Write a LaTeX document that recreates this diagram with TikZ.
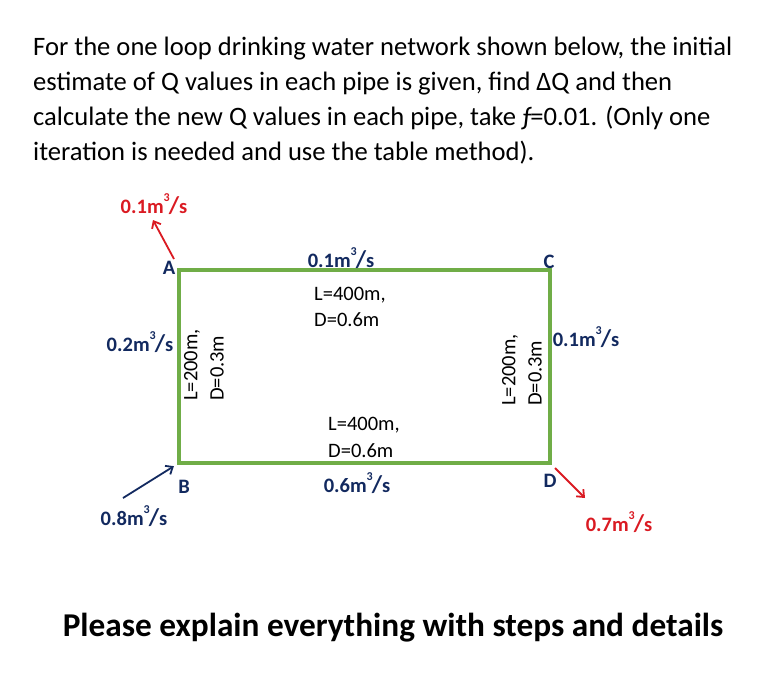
\documentclass[tikz,border=0pt]{standalone}
\usepackage{fontspec}
\setmainfont{Carlito}
\usepackage{tikz}
\usetikzlibrary{arrows.meta}
\definecolor{pipegreen}{HTML}{70AD47}
\definecolor{flowblue}{HTML}{12295F}
\definecolor{flowred}{HTML}{DA1A22}
\newcommand{\flowunit}{m\raisebox{1.25ex}{\fontsize{12}{12}\selectfont 3}\kern-1pt{\fontsize{24}{24}\selectfont/}s}
\tikzset{
	pipe/.style={draw=pipegreen, line width=3.3pt, line join=miter},
	inflow/.style={draw=flowblue, line width=1.8pt, -{Straight Barb[length=6pt,width=10pt]}},
	outflow/.style={draw=flowred, line width=1.8pt, -{Straight Barb[length=6pt,width=10pt]}},
	flowlabel/.style={inner sep=0pt, text=flowblue, font=\fontsize{20.5}{22}\selectfont\bfseries},
	redlabel/.style={flowlabel, text=flowred},
	pipelabel/.style={inner sep=0pt, anchor=west, font=\fontsize{20.5}{24}\selectfont},
	sidelabel/.style={pipelabel, rotate=90}
}
\begin{document}
\begin{tikzpicture}[x=1pt,y=-1pt]
	\useasboundingbox (0,0) rectangle (782,688);
	\node at (33,101) (question) [inner sep=0pt, anchor=west, align=left, font=\fontsize{26.6}{35}\selectfont] {For the one loop drinking water network shown below, the initial\\estimate of Q values in each pipe is given, find ΔQ and then\\calculate the new Q values in each pipe, take\kern-2pt{} ƒ\kern-3pt=0.01. (Only one\\iteration is needed and use the table method).};
	\node at (393,628) (request) [inner sep=0pt, font=\fontsize{33.3}{36}\selectfont\bfseries] {Please explain everything with steps and details};
	% loop corners
	\coordinate (cornerA) at (179,270);
	\coordinate (cornerC) at (550,270);
	\coordinate (cornerD) at (550,463);
	\coordinate (cornerB) at (179,463);
	\draw [pipe] (cornerA) -- (cornerC) -- (cornerD) -- (cornerB) -- cycle;
	\node at (169,268) (A) [flowlabel] {A};
	\node at (184,487) (B) [flowlabel] {B};
	\node at (549,262) (C) [flowlabel] {C};
	\node at (550,481) (D) [flowlabel] {D};
	% supply and demand arrows
	\coordinate (startA) at (174,259);
	\coordinate (outA) at (153,220);
	\coordinate (inB) at (123,498);
	\coordinate (startD) at (555,468);
	\coordinate (outD) at (585,498);
	\draw [outflow] (startA) -- (outA);
	\draw [inflow, shorten >=6pt] (inB) -- (cornerB);
	\draw [outflow] (startD) -- (outD);
	\node at (154,204) (qA) [redlabel] {0.1\flowunit};
	\node at (619,522) (qD) [redlabel] {0.7\flowunit};
	\node at (134,516) (qB) [flowlabel] {0.8\flowunit};
	\node at (140,342) (qAB) [flowlabel] {0.2\flowunit};
	\node at (341,258) (qAC) [flowlabel] {0.1\flowunit};
	\node at (586,337) (qCD) [flowlabel] {0.1\flowunit};
	\node at (357,483) (qBD) [flowlabel] {0.6\flowunit};
	% pipe data
	\node at (314,295) (top1) [pipelabel] {L=400m,};
	\node at (314,320) (top2) [pipelabel] {D=0.6m};
	\node at (328,425) (bot1) [pipelabel] {L=400m,};
	\node at (328,451) (bot2) [pipelabel] {D=0.6m};
	\node at (192,401) (left1) [sidelabel] {L=200m,};
	\node at (217,401) (left2) [sidelabel] {D=0.3m};
	\node at (510,406) (right1) [sidelabel] {L=200m,};
	\node at (535,406) (right2) [sidelabel] {D=0.3m};
\end{tikzpicture}
\end{document}
